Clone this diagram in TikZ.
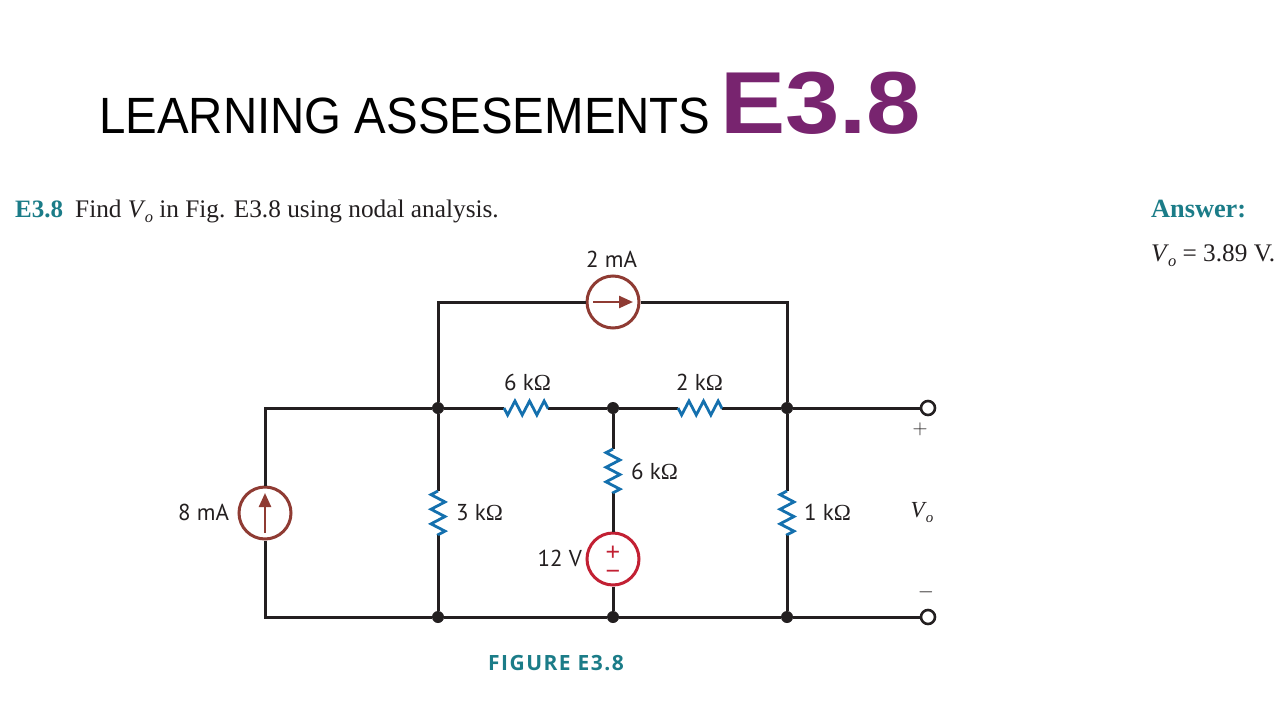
\documentclass[tikz,border=0pt]{standalone}
\usepackage{fontspec}
\setmainfont{Liberation Serif}
\newfontfamily\titlefont[FakeStretch=0.93]{Liberation Sans}
\newfontfamily\numberfont[FakeStretch=1.11]{Liberation Sans}
\newfontfamily\polarityfont{Liberation Sans}
\newfontfamily\labelfont{PT Sans}
\newfontfamily\captionfont[LetterSpace=7]{Open Sans}
\usetikzlibrary{arrows.meta, decorations.pathmorphing}
\definecolor{wire}{HTML}{231F20}
\definecolor{purple}{HTML}{78246F}
\definecolor{teal}{HTML}{1B7C88}
\definecolor{brown}{HTML}{8F3B33}
\definecolor{red}{HTML}{C22033}
\definecolor{blue}{HTML}{1470AE}
\newcommand{\vout}{\textit{V}\kern-1pt\raisebox{-0.22em}{\fontsize{0.65em}{0.65em}\selectfont\textit{o}}}
\newcommand{\kohm}[1]{#1 k{\rmfamily Ω}}

\begin{document}
\begin{tikzpicture}
  [x=1pt,y=-1pt,
   wire line/.style={draw=wire,line width=3pt,line join=miter},
   resistor/.style={draw=blue,line width=2.8pt,decorate,decoration={zigzag,segment length=14.6pt,amplitude=7pt,mirror}},
   source/.style={draw=#1,circle,line width=3pt,minimum size=52pt,inner sep=0pt,fill=white},
   dot/.style={circle,fill=wire,minimum size=12pt,inner sep=0pt},
   terminal/.style={draw=wire,circle,line width=2.6pt,minimum size=14pt,inner sep=0pt,fill=white},
   value/.style={font=\labelfont\fontsize{23}{23}\selectfont,text=wire,inner sep=0pt,anchor=base west},
   body/.style={font=\fontsize{25.3}{25.3}\selectfont,text=wire,inner sep=0pt,anchor=base west},
   heading/.style={font=\fontsize{25}{25}\selectfont\bfseries,text=teal,inner sep=0pt,anchor=base west},
   current/.style={draw=brown,line width=2.4pt,-{Triangle[length=14pt,width=12pt]}},
   polarity/.style={font=\polarityfont\fontsize{25}{19.5}\selectfont,text=red,inner sep=0pt,align=center}]

  \useasboundingbox (0,0) rectangle (1280,720);

  % heading
  \node [font=\titlefont\fontsize{51}{51}\selectfont,inner sep=0pt,anchor=base west] (title) at (99,133.5) {LEARNING ASSESEMENTS};
  \node [font=\numberfont\fontsize{88}{88}\selectfont\bfseries,text=purple,inner sep=0pt,anchor=base west] (number) at (720,133.5) {E3.8};

  \node [heading] (tag) at (15,217) {E3.8};
  \node [body] (question) at (75,217) {Find \vout{} in Fig. E3.8 using nodal analysis.};
  \node [heading,font=\fontsize{26.3}{26.3}\selectfont\bfseries] (answer) at (1151,217) {Answer:};
  \node [body] (result) at (1151,261) {\vout{} = 3.89 V.};

  % junctions
  \node [dot] (J1) at (438,408) {};
  \node [dot] (J2) at (613,408) {};
  \node [dot] (J3) at (787,408) {};
  \node [dot] (J4) at (438,617) {};
  \node [dot] (J5) at (613,617) {};
  \node [dot] (J6) at (787,617) {};
  \coordinate (TL) at (438,302);
  \coordinate (TR) at (787,302);
  \coordinate (LT) at (265,408);
  \coordinate (LB) at (265,617);

  \node [terminal] (Tp) at (928,408) {};
  \node [terminal] (Tm) at (928,617) {};

  % sources
  \node [source=brown] (I1) at (265,513) {};
  \node [source=brown] (I2) at (613,302) {};
  \node [source=red] (V1) at (613,559) {};

  % resistor ends
  \coordinate (R1a) at (504,408);
  \coordinate (R1b) at (548,408);
  \coordinate (R2a) at (678,408);
  \coordinate (R2b) at (722,408);
  \coordinate (R3a) at (613,449);
  \coordinate (R3b) at (613,493);
  \coordinate (R4a) at (438,491);
  \coordinate (R4b) at (438,535);
  \coordinate (R5a) at (787,491);
  \coordinate (R5b) at (787,535);

  % wires
  \draw [wire line] (I1) -- (LT) -- (J1) -- (TL) -- (I2);
  \draw [wire line] (I2) -- (TR) -- (J3);
  \draw [wire line] (I1) -- (LB) -- (J4) -- (J5) -- (J6) -- (Tm);
  \draw [wire line] (J1) -- (R1a);
  \draw [wire line] (R1b) -- (J2) -- (R2a);
  \draw [wire line] (R2b) -- (J3) -- (Tp);
  \draw [wire line] (J2) -- (R3a);
  \draw [wire line] (R3b) -- (V1) -- (J5);
  \draw [wire line] (J1) -- (R4a);
  \draw [wire line] (R4b) -- (J4);
  \draw [wire line] (J3) -- (R5a);
  \draw [wire line] (R5b) -- (J6);

  % resistors
  \draw [resistor] (R1a) -- (R1b);
  \draw [resistor] (R2a) -- (R2b);
  \draw [resistor] (R3a) -- (R3b);
  \draw [resistor] (R4a) -- (R4b);
  \draw [resistor] (R5a) -- (R5b);

  % arrows in the sources
  \coordinate (A1a) at (265,533);
  \coordinate (A1b) at (265,493);
  \coordinate (A2a) at (593,302);
  \coordinate (A2b) at (633,302);
  \draw [current] (A1a) -- (A1b);
  \draw [current] (A2a) -- (A2b);

  \node [polarity] (Vsign) at (613,563) {+\\−};

  % labels
  \node [value] (L1) at (586,267) {2 mA};
  \node [value] (L2) at (504,390) {\kohm{6}};
  \node [value] (L3) at (676,390) {\kohm{2}};
  \node [value] (L4) at (631,479) {\kohm{6}};
  \node [value] (L5) at (456,520) {\kohm{3}};
  \node [value] (L6) at (804,520) {\kohm{1}};
  \node [value] (L7) at (178,520) {8 mA};
  \node [value] (L8) at (537.5,566) {12 V};
  \node [value,font=\captionfont\bfseries\fontsize{21}{21}\selectfont,text=teal] (caption) at (488,670) {FIGURE E3.8};

  \node [font=\fontsize{22}{22}\selectfont,text=wire,inner sep=0pt] (Pp) at (920,429) {$+$};
  \node [font=\fontsize{23}{23}\selectfont,text=wire,inner sep=0pt] (Vo) at (922,513) {\vout};
  \node [font=\fontsize{22}{22}\selectfont,text=wire,inner sep=0pt] (Pm) at (926,592) {$-$};

\end{tikzpicture}
\end{document}
